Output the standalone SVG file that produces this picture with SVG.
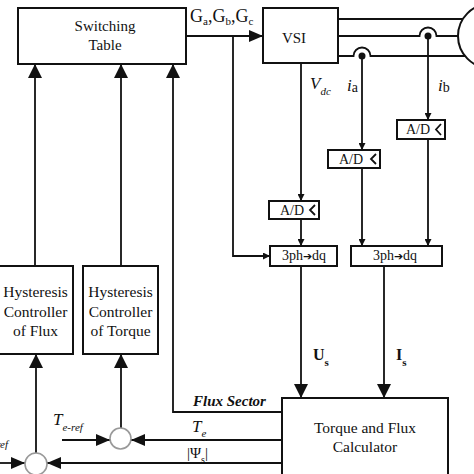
<svg xmlns="http://www.w3.org/2000/svg" width="474" height="474" viewBox="0 0 474 474">
<style>
.box{fill:#fff;stroke:#111;stroke-width:2}
.ln{fill:none;stroke:#111;stroke-width:1.8}
.sum{fill:#fff;stroke:#999;stroke-width:1.6}
.t{font-family:"Liberation Serif",serif;fill:#111}
.c{text-anchor:middle}
.i{font-style:italic}
.b{font-weight:bold}
</style>
<defs>
<marker id="big" viewBox="0 0 14 14" refX="14" refY="7" markerWidth="14" markerHeight="14" markerUnits="userSpaceOnUse" orient="auto"><path d="M0,0 L14,7 L0,14 z" fill="#111"/></marker>
<marker id="mid" viewBox="0 0 14 12" refX="14" refY="6" markerWidth="14" markerHeight="12" markerUnits="userSpaceOnUse" orient="auto"><path d="M0,0 L14,6 L0,12 z" fill="#111"/></marker>
<marker id="sm" viewBox="0 0 7 7" refX="7" refY="3.5" markerWidth="7" markerHeight="7" markerUnits="userSpaceOnUse" orient="auto"><path d="M0,0 L7,3.5 L0,7 z" fill="#111"/></marker>
</defs>

<g id="connectors">
<path class="ln" d="M35,266 V64" marker-end="url(#big)"/>
<path class="ln" d="M121,266 V64" marker-end="url(#big)"/>
<path class="ln" d="M282,412 H173 V64" marker-end="url(#big)"/>
<path class="ln" d="M186,36 H263" marker-end="url(#mid)"/>
<path class="ln" d="M233,36 V256 H270" marker-end="url(#sm)"/>
<path class="ln" d="M338,19 H474"/>
<path class="ln" d="M338,36 H419.5 A8.5,8.5 0 0 1 436.5,36 H474"/>
<path class="ln" d="M338,56 H353.5 A8.5,8.5 0 0 1 370.5,56 H474"/>
<circle cx="362" cy="56" r="3.5" fill="#111"/>
<circle cx="428" cy="36" r="3.5" fill="#111"/>
<path class="ln" d="M301,63 V201" marker-end="url(#sm)"/>
<path class="ln" d="M362,56 V150" marker-end="url(#sm)"/>
<path class="ln" d="M428,36 V120" marker-end="url(#sm)"/>
<path class="ln" d="M301,219 V246" marker-end="url(#sm)"/>
<path class="ln" d="M362,168 V246" marker-end="url(#sm)"/>
<path class="ln" d="M428,139 V246" marker-end="url(#sm)"/>
<path class="ln" d="M301,266 V398" marker-end="url(#big)"/>
<path class="ln" d="M384,266 V398" marker-end="url(#big)"/>
<path class="ln" d="M282,440 H131" marker-end="url(#mid)"/>
<path class="ln" d="M282,463 H47" marker-end="url(#mid)"/>
<path class="ln" d="M62,440 H110" marker-end="url(#mid)"/>
<path class="ln" d="M0,463 H25" marker-end="url(#mid)"/>
<path class="ln" d="M121,428 V354" marker-end="url(#big)"/>
<path class="ln" d="M36,453 V354" marker-end="url(#big)"/>
</g>

<g id="switching-table">
<rect class="box" x="18" y="8" width="168" height="56"/>
<text class="t c" x="105" y="31" font-size="15">Switching</text>
<text class="t c" x="105" y="50" font-size="15">Table</text>
</g>

<g id="vsi">
<rect class="box" x="263" y="8" width="75" height="55"/>
<text class="t c" x="294" y="43" font-size="15">VSI</text>
</g>

<g id="motor">
<circle class="box" cx="490" cy="36" r="32"/>
</g>

<g id="ad-vdc">
<rect class="box" x="269" y="201" width="50" height="18"/>
<text class="t c" x="292" y="215" font-size="14">A/D</text>
<path class="ln" d="M315,205 L310,210 L315,215" stroke-width="1.4"/>
</g>
<g id="ad-ia">
<rect class="box" x="328" y="150" width="52" height="18"/>
<text class="t c" x="351" y="164" font-size="14">A/D</text>
<path class="ln" d="M376,154 L371,159 L376,164" stroke-width="1.4"/>
</g>
<g id="ad-ib">
<rect class="box" x="397" y="120" width="48" height="19"/>
<text class="t c" x="418" y="134" font-size="14">A/D</text>
<path class="ln" d="M441,124 L436,129.5 L441,135" stroke-width="1.4"/>
</g>

<g id="abc-dq-u">
<rect class="box" x="270" y="246" width="67" height="20"/>
<text class="t c" x="304" y="260" font-size="14">3ph<tspan font-family="DejaVu Sans,sans-serif" font-size="11">➔</tspan>dq</text>
</g>
<g id="abc-dq-i">
<rect class="box" x="351" y="246" width="91" height="20"/>
<text class="t c" x="395" y="260" font-size="14">3ph<tspan font-family="DejaVu Sans,sans-serif" font-size="11">➔</tspan>dq</text>
</g>

<g id="calculator">
<rect class="box" x="282" y="398" width="166" height="90"/>
<text class="t c" x="365" y="433" font-size="15.5">Torque and Flux</text>
<text class="t c" x="365" y="452" font-size="15.5">Calculator</text>
</g>

<g id="hyst-flux">
<rect class="box" x="-2" y="266" width="75" height="88"/>
<text class="t c" x="35.5" y="297" font-size="15.5">Hysteresis</text>
<text class="t c" x="35.5" y="317" font-size="15.5">Controller</text>
<text class="t c" x="35.5" y="336" font-size="15.5">of Flux</text>
</g>
<g id="hyst-torque">
<rect class="box" x="83" y="266" width="75" height="88"/>
<text class="t c" x="120.5" y="297" font-size="15.5">Hysteresis</text>
<text class="t c" x="120.5" y="317" font-size="15.5">Controller</text>
<text class="t c" x="120.5" y="336" font-size="15.5">of Torque</text>
</g>

<g id="sum-torque"><circle class="sum" cx="120.5" cy="438.5" r="10.5"/></g>
<g id="sum-flux"><circle class="sum" cx="36" cy="464" r="11"/></g>

<g id="labels">
<text class="t" x="190" y="22" font-size="18">G<tspan font-size="11" dy="3">a</tspan><tspan dy="-3">,G</tspan><tspan font-size="11" dy="3">b</tspan><tspan dy="-3">,G</tspan><tspan font-size="11" dy="3">c</tspan></text>
<text class="t i" x="310" y="89" font-size="17">V<tspan font-size="11" dy="6">dc</tspan></text>
<text class="t" x="347" y="91" font-size="17"><tspan class="i">i</tspan><tspan font-size="14" dy="1">a</tspan></text>
<text class="t" x="438" y="91" font-size="17"><tspan class="i">i</tspan><tspan font-size="14" dy="1">b</tspan></text>
<text class="t b" x="313" y="360" font-size="16">U<tspan font-size="11" dy="6">s</tspan></text>
<text class="t b" x="396" y="360" font-size="16">I<tspan font-size="11" dy="6">s</tspan></text>
<text class="t i b" x="193" y="406" font-size="15">Flux Sector</text>
<text class="t i" x="192" y="432" font-size="17">T<tspan font-size="11" dy="5">e</tspan></text>
<text class="t" x="187" y="458" font-size="15">|Ψ<tspan font-size="10" dy="5">s</tspan><tspan dy="-5">|</tspan></text>
<text class="t i" x="53" y="425" font-size="17">T<tspan font-size="11" dy="6">e-ref</tspan></text>
<text class="t i" x="8" y="448" font-size="11" text-anchor="end">Ψs-ref</text>
</g>
</svg>
